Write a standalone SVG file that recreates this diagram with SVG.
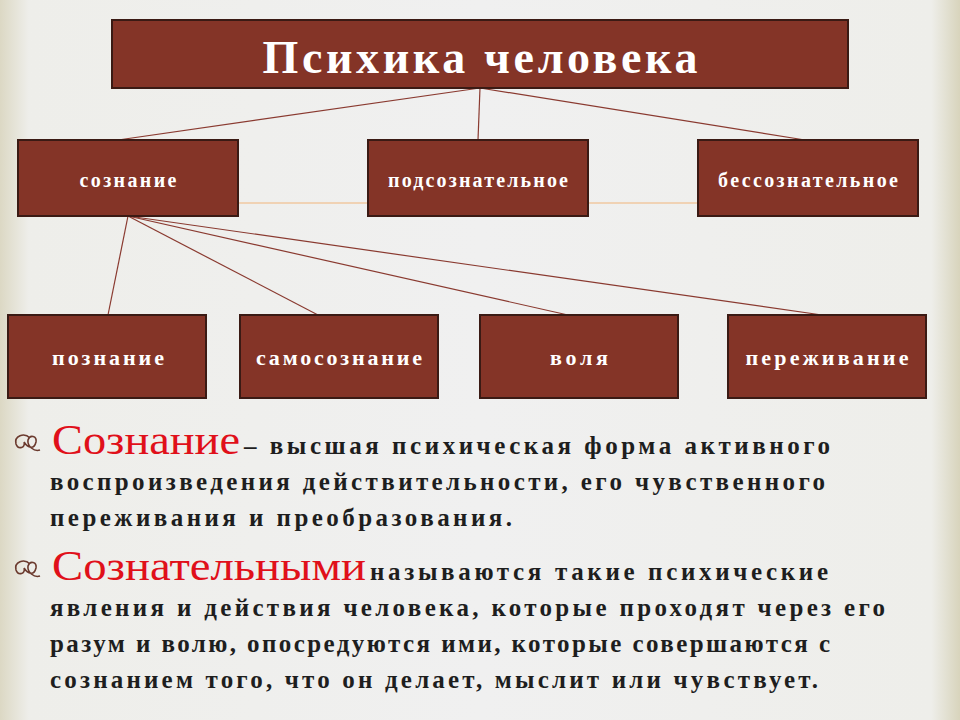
<svg xmlns="http://www.w3.org/2000/svg" width="960" height="720" viewBox="0 0 960 720">
<defs>
<linearGradient id="bg" x1="0" y1="0" x2="1" y2="0">
<stop offset="0" stop-color="#dcd8c4"/><stop offset="0.03" stop-color="#eeeeea"/><stop offset="0.5" stop-color="#f0f0f0"/><stop offset="0.97" stop-color="#eeeeea"/><stop offset="1" stop-color="#d8d4bc"/>
</linearGradient>
<path id="orn" d="M16,2 C10,-4 0,0 2,8 C4,14 12,12 10,6 M10,6 C14,12 20,14 22,6 C23,0 16,-2 14,4 C13,10 20,16 26,14" fill="none" stroke="#6b3a2e" stroke-width="1.6"/>
</defs>
<style>
.box{fill:#843427;stroke:#3a1a14;stroke-width:2}
.lbl{font-family:"Liberation Serif",serif;font-weight:bold;font-size:20px;fill:#fff;text-anchor:middle}
.big{font-size:22px}
.t{font-family:"Liberation Serif",serif;font-weight:bold;font-size:25px;fill:#1e1e1e}
.r{font-family:"Liberation Serif",serif;font-size:42px;fill:#e0101a}
.c{stroke:#8a3a30;stroke-width:1.2;fill:none}
</style>
<rect width="960" height="720" fill="url(#bg)"/>
<line x1="238" y1="203" x2="368" y2="203" stroke="#f0c8a0" stroke-width="1.5"/>
<line x1="588" y1="203" x2="698" y2="203" stroke="#f0c8a0" stroke-width="1.5"/>
<g id="connectors">
<line class="c" x1="480" y1="88" x2="118" y2="140"/>
<line class="c" x1="480" y1="88" x2="478" y2="140"/>
<line class="c" x1="480" y1="88" x2="805" y2="140"/>
<line class="c" x1="128" y1="216" x2="108" y2="315"/>
<line class="c" x1="128" y1="216" x2="318" y2="315"/>
<line class="c" x1="128" y1="216" x2="568" y2="315"/>
<line class="c" x1="128" y1="216" x2="822" y2="315"/>
</g>
<g id="n0"><rect class="box" x="112" y="20" width="736" height="68"/><text class="lbl" x="480" y="73" style="font-size:46px" textLength="435" lengthAdjust="spacing">Психика человека</text></g>
<g id="n1"><rect class="box" x="18" y="140" width="220" height="76"/><text class="lbl" x="128" y="187" textLength="97" lengthAdjust="spacing">сознание</text></g>
<g id="n2"><rect class="box" x="368" y="140" width="220" height="76"/><text class="lbl" x="478" y="187" textLength="180" lengthAdjust="spacing">подсознательное</text></g>
<g id="n3"><rect class="box" x="698" y="140" width="220" height="76"/><text class="lbl" x="808" y="187" textLength="180" lengthAdjust="spacing">бессознательное</text></g>
<g id="n4"><rect class="box" x="8" y="315" width="198" height="83"/><text class="lbl big" x="108" y="365" textLength="112" lengthAdjust="spacing">познание</text></g>
<g id="n5"><rect class="box" x="240" y="315" width="198" height="83"/><text class="lbl big" x="339" y="365" textLength="166" lengthAdjust="spacing">самосознание</text></g>
<g id="n6"><rect class="box" x="480" y="315" width="198" height="83"/><text class="lbl big" x="579" y="365" textLength="58" lengthAdjust="spacing">воля</text></g>
<g id="n7"><rect class="box" x="728" y="315" width="198" height="83"/><text class="lbl big" x="827" y="365" textLength="163" lengthAdjust="spacing">переживание</text></g>
<use href="#orn" x="14" y="436"/>
<use href="#orn" x="14" y="562"/>
<text class="r" x="52" y="454" textLength="188" lengthAdjust="spacingAndGlyphs">Сознание</text>
<text class="t" x="244" y="454" textLength="586" lengthAdjust="spacing">– высшая психическая форма активного</text>
<text class="t" x="50" y="490" textLength="775" lengthAdjust="spacing">воспроизведения действительности, его чувственного</text>
<text class="t" x="50" y="526" textLength="462" lengthAdjust="spacing">переживания и преобразования.</text>
<text class="r" x="52" y="580" textLength="314" lengthAdjust="spacingAndGlyphs">Сознательными</text>
<text class="t" x="370" y="580" textLength="458" lengthAdjust="spacing">называются такие психические</text>
<text class="t" x="50" y="616" textLength="835" lengthAdjust="spacing">явления и действия человека, которые проходят через его</text>
<text class="t" x="50" y="652" textLength="780" lengthAdjust="spacing">разум и волю, опосредуются ими, которые совершаются с</text>
<text class="t" x="50" y="688" textLength="768" lengthAdjust="spacing">сознанием того, что он делает, мыслит или чувствует.</text>
</svg>
